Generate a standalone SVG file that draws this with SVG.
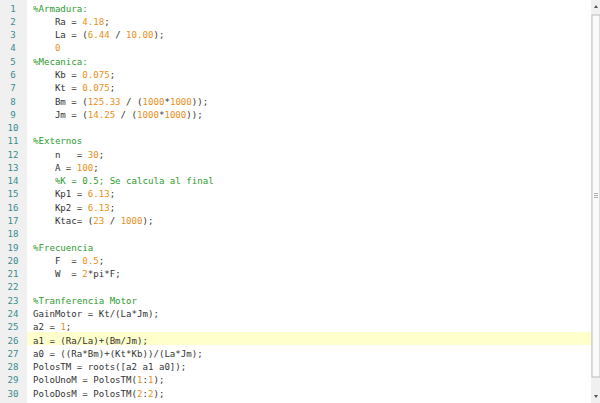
<svg xmlns="http://www.w3.org/2000/svg" width="600" height="403" viewBox="0 0 600 403">
<style>
text{font-family:"DejaVu Sans Mono","Liberation Mono",monospace;font-size:9.1px;fill:#333;white-space:pre}
.ln{fill:#3a8c8c;text-anchor:middle}
.c{fill:#2e9b2e}
.n{fill:#e8901a}
</style>
<rect width="600" height="403" fill="#fff"/>
<rect x="0" y="0" width="27" height="403" fill="#f0f0f0"/>
<rect x="27" y="332" width="565" height="13" fill="#ffffcc"/>
<g id="scrollbar">
<rect x="591" y="0" width="9" height="403" fill="#f0f0f0"/>
<rect x="592" y="15" width="8" height="362" fill="#fafafa" stroke="#b0b0b0" stroke-width="0.8"/>
<path d="M594 8 L596 5 L598 8 Z M594 395 L596 398 L598 395 Z" fill="#555"/>
<path d="M594 193.5 H598 M594 195.5 H598 M594 197.5 H598" stroke="#777" stroke-width="0.6"/>
</g>
<g id="linenumbers">
<text class="ln" x="13" y="11.5">1</text><text class="ln" x="13" y="24.8">2</text><text class="ln" x="13" y="38.1">3</text><text class="ln" x="13" y="51.3">4</text><text class="ln" x="13" y="64.6">5</text><text class="ln" x="13" y="77.9">6</text><text class="ln" x="13" y="91.2">7</text><text class="ln" x="13" y="104.5">8</text><text class="ln" x="13" y="117.7">9</text><text class="ln" x="13" y="131">10</text><text class="ln" x="13" y="144.3">11</text><text class="ln" x="13" y="157.6">12</text><text class="ln" x="13" y="170.9">13</text><text class="ln" x="13" y="184.1">14</text><text class="ln" x="13" y="197.4">15</text><text class="ln" x="13" y="210.7">16</text><text class="ln" x="13" y="224">17</text><text class="ln" x="13" y="237.3">18</text><text class="ln" x="13" y="250.5">19</text><text class="ln" x="13" y="263.8">20</text><text class="ln" x="13" y="277.1">21</text><text class="ln" x="13" y="290.4">22</text><text class="ln" x="13" y="303.7">23</text><text class="ln" x="13" y="316.9">24</text><text class="ln" x="13" y="330.2">25</text><text class="ln" x="13" y="343.5">26</text><text class="ln" x="13" y="356.8">27</text><text class="ln" x="13" y="370.1">28</text><text class="ln" x="13" y="383.3">29</text><text class="ln" x="13" y="396.6">30</text>
</g>
<g id="code">
<text x="33" y="11.5" class="c">%Armadura:</text>
<text x="33" y="24.8">    Ra = <tspan class="n">4.18</tspan>;</text>
<text x="33" y="38.1">    La = (<tspan class="n">6.44</tspan> / <tspan class="n">10.00</tspan>);</text>
<text x="33" y="51.3">    <tspan class="n">0</tspan></text>
<text x="33" y="64.6" class="c">%Mecanica:</text>
<text x="33" y="77.9">    Kb = <tspan class="n">0.075</tspan>;</text>
<text x="33" y="91.2">    Kt = <tspan class="n">0.075</tspan>;</text>
<text x="33" y="104.5">    Bm = (<tspan class="n">125.33</tspan> / (<tspan class="n">1000</tspan>*<tspan class="n">1000</tspan>));</text>
<text x="33" y="117.7">    Jm = (<tspan class="n">14.25</tspan> / (<tspan class="n">1000</tspan>*<tspan class="n">1000</tspan>));</text>
<text x="33" y="144.3" class="c">%Externos</text>
<text x="33" y="157.6">    n   = <tspan class="n">30</tspan>;</text>
<text x="33" y="170.9">    A = <tspan class="n">100</tspan>;</text>
<text x="33" y="184.1" class="c">    %K = 0.5; Se calcula al final</text>
<text x="33" y="197.4">    Kp1 = <tspan class="n">6.13</tspan>;</text>
<text x="33" y="210.7">    Kp2 = <tspan class="n">6.13</tspan>;</text>
<text x="33" y="224">    Ktac= (<tspan class="n">23</tspan> / <tspan class="n">1000</tspan>);</text>
<text x="33" y="250.5" class="c">%Frecuencia</text>
<text x="33" y="263.8">    F  = <tspan class="n">0.5</tspan>;</text>
<text x="33" y="277.1">    W  = <tspan class="n">2</tspan>*pi*F;</text>
<text x="33" y="303.7" class="c">%Tranferencia Motor</text>
<text x="33" y="316.9">GainMotor = Kt/(La*Jm);</text>
<text x="33" y="330.2">a2 = <tspan class="n">1</tspan>;</text>
<text x="33" y="343.5">a1 = (Ra/La)+(Bm/Jm);</text>
<text x="33" y="356.8">a0 = ((Ra*Bm)+(Kt*Kb))/(La*Jm);</text>
<text x="33" y="370.1">PolosTM = roots([a2 a1 a0]);</text>
<text x="33" y="383.3">PoloUnoM = PolosTM(<tspan class="n">1</tspan>:<tspan class="n">1</tspan>);</text>
<text x="33" y="396.6">PoloDosM = PolosTM(<tspan class="n">2</tspan>:<tspan class="n">2</tspan>);</text>
</g>
</svg>
